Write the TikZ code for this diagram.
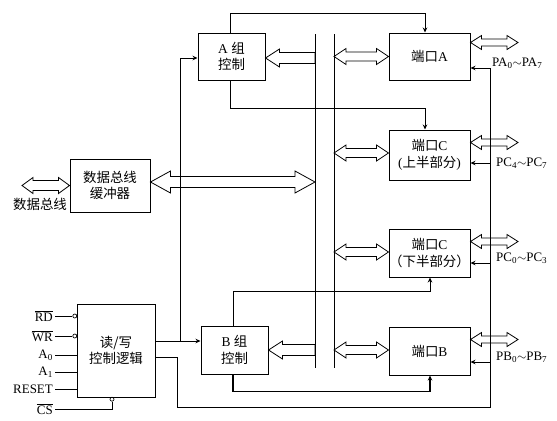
\documentclass[tikz,border=0pt]{standalone}
\usepackage{fontspec}
\setmainfont{Liberation Serif}
\newfontfamily\cjk{Noto Sans CJK SC}
\usetikzlibrary{arrows.meta,calc}
\tikzset{
  box/.style={draw,line width=1bp,inner sep=0pt,align=center,font=\fontsize{13.5}{16.5}\selectfont},
  ctl/.style={line width=0.8bp},
  arr/.style={-{Stealth[length=5bp,width=4.5bp]}},
  fat/.style={line width=0.8bp,line join=miter},
  busline/.style={line width=1bp},
  lab/.style={inner sep=0pt,font=\fontsize{13}{14}\selectfont},
  bubble/.style={circle,draw,inner sep=0pt,minimum size=4bp,line width=0.7bp}
}
% double-headed wide arrow: #1 left point, #2 right point (x only), #3 head length, #4 head half width, #5 shaft half width
\newcommand\fatdbl[5]{\draw[fat] let \p1=#1, \p2=#2 in
  (\x1,\y1) -- (\x1+#3,\y1+#4) -- (\x1+#3,\y1+#5) -- (\x2-#3,\y1+#5) -- (\x2-#3,\y1+#4)
  -- (\x2,\y1) -- (\x2-#3,\y1-#4) -- (\x2-#3,\y1-#5) -- (\x1+#3,\y1-#5) -- (\x1+#3,\y1-#4) -- cycle;}
% single wide arrow with tip on the left at #1, tail at x of #2
\newcommand\fatsgl[5]{\draw[fat] let \p1=#1, \p2=#2 in
  (\x1,\y1) -- (\x1+#3,\y1+#4) -- (\x1+#3,\y1+#5) -- (\x2,\y1+#5) -- (\x2,\y1-#5)
  -- (\x1+#3,\y1-#5) -- (\x1+#3,\y1-#4) -- cycle;}
\begin{document}
\begin{tikzpicture}[x=1bp,y=-1bp]
\useasboundingbox (0,0) rectangle (557,420);
% boxes
\node[box,minimum width=67bp,minimum height=47bp] (actrl) at (231.5,56.5) {A {\cjk 组}\\{\cjk 控制}};
\node[box,minimum width=80bp,minimum height=53bp] (buf) at (110,185.5) {{\cjk 数据总线}\\{\cjk 缓冲器}};
\node[box,minimum width=78bp,minimum height=93bp] (rw) at (116,350.5) {{\cjk 读/写}\\{\cjk 控制逻辑}};
\node[box,minimum width=67bp,minimum height=48bp] (bctrl) at (234.5,350) {B {\cjk 组}\\{\cjk 控制}};
\node[box,minimum width=81bp,minimum height=47bp] (pa) at (429.5,56.5) {{\cjk 端口}A};
\node[box,minimum width=81bp,minimum height=50bp] (pcu) at (429.5,155) {{\cjk 端口}C\\({\cjk 上半部分})};
\node[box,minimum width=81bp,minimum height=48bp] (pcl) at (429.5,253) {{\cjk 端口}C\\{\cjk （下半部分）}};
\node[box,minimum width=81bp,minimum height=48bp] (pb) at (429.5,351) {{\cjk 端口}B};
% internal bus
\coordinate (busL) at (315,34);
\coordinate (busLb) at (315,368);
\coordinate (busR) at (334,34);
\coordinate (busRb) at (334,368);
\draw[busline] (busL) -- (busLb);
\draw[busline] (busR) -- (busRb);
% wide arrows
\coordinate (dbL) at (22,185.5);
\fatdbl{(dbL)}{(buf.west)}{11bp}{8bp}{5bp}
\node[lab,font=\fontsize{13.5}{14}\selectfont\cjk] (dbtext) at (40,204) {数据总线};
\fatdbl{([yshift=3.5bp]buf.east)}{(busL)}{20bp}{11bp}{5.5bp}
\fatsgl{([yshift=-1.5bp]actrl.east)}{(busL)}{14bp}{9bp}{5.5bp}
\fatsgl{(bctrl.east)}{(busL)}{14bp}{9bp}{5.5bp}
\fatdbl{(busR |- pa.west)}{(pa.west)}{12bp}{8bp}{4.5bp}
\fatdbl{([yshift=2bp]busR |- pcu.west)}{(pcu.west)}{12bp}{8bp}{4.5bp}
\fatdbl{([yshift=1bp]busR |- pcl.west)}{(pcl.west)}{12bp}{8bp}{4.5bp}
\fatdbl{([yshift=1bp]busR |- pb.west)}{(pb.west)}{12bp}{8bp}{4.5bp}
\coordinate (outR) at (518,0);
\fatdbl{([yshift=-10bp]pa.north east)}{(outR)}{11bp}{7bp}{3.5bp}
\fatdbl{([yshift=-13bp]pcu.north east)}{(outR)}{11bp}{7bp}{3.5bp}
\fatdbl{([yshift=-13bp]pcl.north east)}{(outR)}{11bp}{7bp}{3.5bp}
\fatdbl{([yshift=-13bp]pb.north east)}{(outR)}{11bp}{7bp}{3.5bp}
% port labels
\node[lab,anchor=west] (lpa) at (492,63) {PA\textsubscript{0}$\sim$PA\textsubscript{7}};
\node[lab,anchor=west] (lpcu) at (496,163) {PC\textsubscript{4}$\sim$PC\textsubscript{7}};
\node[lab,anchor=west] (lpcl) at (496,258) {PC\textsubscript{0}$\sim$PC\textsubscript{3}};
\node[lab,anchor=west] (lpb) at (496,357) {PB\textsubscript{0}$\sim$PB\textsubscript{7}};
% group control lines
\draw[ctl,arr] ([xshift=-1.5bp]actrl.north) -- ++(0,-19) -| ([xshift=-4.5bp]pa.north);
\draw[ctl,arr] ([xshift=-1.5bp]actrl.south) -- ++(0,28) -| ([xshift=-4.5bp]pcu.north);
\draw[ctl,arr] ([xshift=-1.5bp]bctrl.north) -- ++(0,-34) -| ([xshift=0.5bp]pcl.south);
\draw[ctl,arr,line width=1.1bp] ([xshift=-1.5bp]bctrl.south) -- ++(0,17) -| ([xshift=0.5bp]pb.south);
% read/write control outputs
\coordinate (rwA) at ([yshift=9.5bp]rw.east);
\coordinate (rwB) at ([yshift=-6.5bp]rw.east);
\path (rwA) ++(25,0) coordinate (jA);
\draw[ctl,arr] (rwA) -- (rwA -| bctrl.west);
\draw[ctl,arr] (jA) |- ([yshift=-1.5bp]actrl.west);
\coordinate (rb) at (490,407);
\draw[ctl,arr] (rwB) -- ++(22,0) |- (rb) |- ([yshift=-11.5bp]pa.east);
\coordinate (pcuIn) at ([yshift=-8bp]pcu.east);
\coordinate (pclIn) at ([yshift=-10bp]pcl.east);
\coordinate (pbIn) at ([yshift=-11bp]pb.east);
\draw[ctl,arr] (pcuIn -| rb) -- (pcuIn);
\draw[ctl,arr] (pclIn -| rb) -- (pclIn);
\draw[ctl,arr] (pbIn -| rb) -- (pbIn);
% inputs
\node[lab,anchor=east] (rd) at (53,316) {$\overline{\mbox{RD}}$};
\node[lab,anchor=east] (wr) at (53,336) {$\overline{\mbox{WR}}$};
\node[lab,anchor=east] (a0) at (53,355) {A\textsubscript{0}};
\node[lab,anchor=east] (a1) at (53,372) {A\textsubscript{1}};
\node[lab,anchor=east] (reset) at (53,389) {RESET};
\node[lab,anchor=east] (cs) at (53,409) {$\overline{\mbox{CS}}$};
\node[bubble] (rdb) at (74.8,316) {};
\node[bubble] (wrb) at (74.8,336) {};
\node[bubble] (csb) at (112,399.2) {};
\draw[ctl] ([xshift=2bp]rd.east) -- (rdb.west);
\draw[ctl] ([xshift=2bp]wr.east) -- (wrb.west);
\draw[ctl] ([xshift=2bp]a0.east) -- (a0 -| rw.west);
\draw[ctl] ([xshift=2bp]a1.east) -- (a1 -| rw.west);
\draw[ctl] ([xshift=2bp]reset.east) -- (reset -| rw.west);
\draw[ctl] ([xshift=2bp]cs.east) -| (csb.south);
\end{tikzpicture}
\end{document}
